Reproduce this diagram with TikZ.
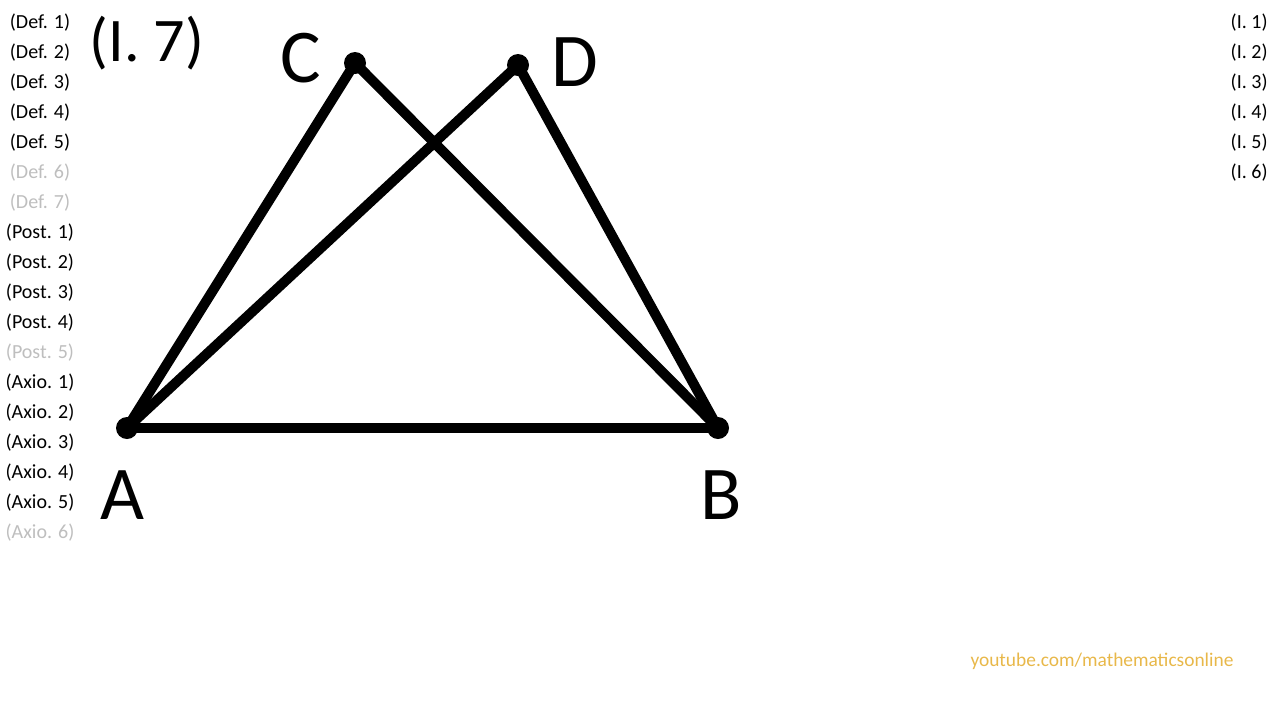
\documentclass[tikz,border=0pt]{standalone}
\usepackage{fontspec}
\setmainfont{Carlito}
\definecolor{faded}{RGB}{190,190,190}
\definecolor{channel}{RGB}{232,184,74}

\begin{document}
\begin{tikzpicture}[x=0.5pt, y=-0.5pt,
	segment/.style={line width=5pt, line cap=round},
	vertex/.style={font=\fontsize{38}{40}\selectfont},
	ref/.style={font=\fontsize{10}{12}\selectfont, inner sep=0pt}]

	\useasboundingbox (0,0) rectangle (1280,720);

	% points
	\coordinate (A) at (127,428);
	\coordinate (B) at (718,428);
	\coordinate (C) at (355,63);
	\coordinate (D) at (518,65);

	% sides
	\draw [segment] (A) -- (B);
	\draw [segment] (A) -- (C);
	\draw [segment] (C) -- (B);
	\draw [segment] (A) -- (D);
	\draw [segment] (D) -- (B);

	% dots
	\foreach \p in {A,B,C,D}
		\fill (\p) circle [radius=5.5pt];

	% point labels
	\node [vertex] (label-A) at (122,495) {A};
	\node [vertex] (label-B) at (721,495) {B};
	\node [vertex] (label-C) at (301,58) {C};
	\node [vertex] (label-D) at (575,62) {D};

	% heading
	\node [font=\fontsize{31}{33}\selectfont] (heading) at (147,43) {(I. 7)};

	% left column
	\foreach \l/\c [count=\y from 0] in {Def. 1/black, Def. 2/black, Def. 3/black, Def. 4/black, Def. 5/black, Def. 6/faded, Def. 7/faded, Post. 1/black, Post. 2/black, Post. 3/black, Post. 4/black, Post. 5/faded, Axio. 1/black, Axio. 2/black, Axio. 3/black, Axio. 4/black, Axio. 5/black, Axio. 6/faded}
		\node [ref, text=\c] (left-\y) at (40,23+30*\y) {(\l)};

	% right column
	\foreach \l [count=\y from 0] in {1,...,6}
		\node [ref, anchor=east] (right-\l) at (1268,23+30*\y) {(I. \l)};

	% channel
	\node [ref, text=channel, font=\fontsize{9.7}{12}\selectfont] (channel) at (1102,661) {youtube.com/mathematicsonline};

\end{tikzpicture}
\end{document}
